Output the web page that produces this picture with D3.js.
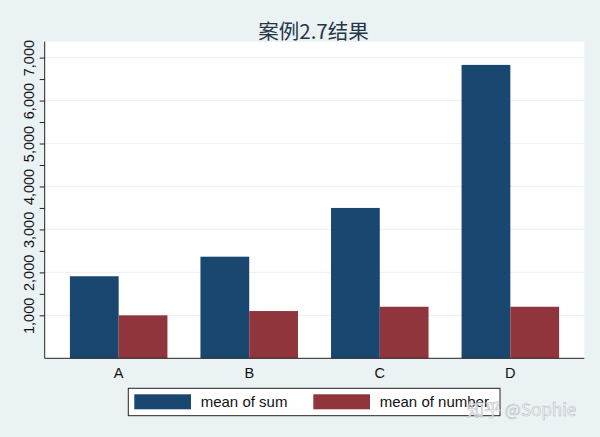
<!DOCTYPE html>
<html>
<head>
<meta charset="utf-8">
<script src="https://cdn.jsdelivr.net/npm/d3@7"></script>
<style>
  body { margin: 0; background: #eaf2f3; }
  text { font-family: "Liberation Sans", Arial, sans-serif; }
</style>
</head>
<body>
<script>
var categories = ["A", "B", "C", "D"];
var seriesNames = ["mean of sum", "mean of number"];
var meanSum = [1910, 2365, 3500, 6830];
var meanNumber = [1000, 1100, 1200, 1200];
var yTicks = [1000, 1500, 2000, 2500, 3000, 3500, 4000, 4500, 5000, 5500, 6000, 6500, 7000];
var yLabels = [1000, 2000, 3000, 4000, 5000, 6000, 7000];

var width = 600, height = 437;
var plot = { left: 44.7, right: 584.3, top: 41.7, bottom: 358.3 };
var colors = ["#1a476f", "#90353b"];

var svg = d3.select("body").append("svg")
    .attr("width", width)
    .attr("height", height);

svg.append("rect")
    .attr("width", width).attr("height", height)
    .attr("fill", "#eaf2f3");

svg.append("rect")
    .attr("x", plot.left).attr("y", plot.top)
    .attr("width", plot.right - plot.left)
    .attr("height", plot.bottom - plot.top)
    .attr("fill", "#ffffff");

var y = d3.scaleLinear()
    .domain([0, 7370])
    .range([plot.bottom, plot.top]);

var x = d3.scaleBand()
    .domain(categories)
    .range([plot.left, plot.right])
    .paddingInner(0.253)
    .paddingOuter(0.193);

var x1 = d3.scaleBand()
    .domain(seriesNames)
    .range([0, x.bandwidth()]);

// grid
svg.append("g")
    .selectAll("line")
    .data(yLabels)
    .enter()
    .append("line")
    .attr("x1", plot.left).attr("x2", plot.right)
    .attr("y1", function(d) { return y(d); })
    .attr("y2", function(d) { return y(d); })
    .attr("stroke", "#eaf2f3")
    .attr("stroke-width", 1.2);

var rows = categories.map(function(c, i) {
    return { cat: c, values: [meanSum[i], meanNumber[i]] };
});

var groups = svg.selectAll(".grp")
    .data(rows)
    .enter()
    .append("g")
    .attr("class", "grp")
    .attr("transform", function(d) { return "translate(" + x(d.cat) + ",0)"; });

groups.selectAll("rect")
    .data(function(d) { return d.values.map(function(v, j) { return { s: seriesNames[j], v: v, j: j }; }); })
    .enter()
    .append("rect")
    .attr("x", function(d) { return x1(d.s); })
    .attr("width", x1.bandwidth())
    .attr("y", function(d) { return y(d.v); })
    .attr("height", function(d) { return plot.bottom - y(d.v); })
    .attr("fill", function(d) { return colors[d.j]; });

// y axis
var yAxis = svg.append("g")
    .attr("transform", "translate(" + plot.left + ",0)")
    .call(d3.axisLeft(y)
        .tickValues(yTicks)
        .tickSize(5)
        .tickFormat(function(d) { return yLabels.indexOf(d) >= 0 ? d3.format(",")(d) : ""; }));
yAxis.select(".domain").attr("d", "M0," + plot.top + "V" + plot.bottom).attr("stroke", "#222");
yAxis.selectAll(".tick line").attr("stroke", "#222");
yAxis.selectAll(".tick text")
    .attr("transform", "rotate(-90)")
    .attr("x", 0)
    .attr("y", -11)
    .attr("dy", 0)
    .style("text-anchor", "middle")
    .style("font-size", "14.5px")
    .attr("fill", "#111");

// x axis
var xAxis = svg.append("g")
    .attr("transform", "translate(0," + plot.bottom + ")")
    .call(d3.axisBottom(x).tickSize(0).tickPadding(9));
xAxis.select(".domain").attr("d", "M" + plot.left + ",0H" + plot.right).attr("stroke", "#222");
xAxis.selectAll(".tick text")
    .style("font-size", "14.5px")
    .attr("fill", "#111");

// title
svg.append("text")
    .attr("x", 313.5).attr("y", 38.5)
    .attr("text-anchor", "middle")
    .style("font-family", "'Noto Sans CJK SC', 'Liberation Sans', sans-serif")
    .style("font-size", "20.5px")
    .attr("fill", "#263648")
    .text("案例2.7结果");

// legend
var legend = svg.append("g");
legend.append("rect")
    .attr("x", 128.3).attr("y", 388.3)
    .attr("width", 371.7).attr("height", 27.4)
    .attr("fill", "#ffffff")
    .attr("stroke", "#222")
    .attr("stroke-width", 1);

var legendX = [134.3, 313.3];
seriesNames.forEach(function(s, j) {
    legend.append("rect")
        .attr("x", legendX[j]).attr("y", 394.3)
        .attr("width", 56.7).attr("height", 15)
        .attr("fill", colors[j]);
    legend.append("text")
        .attr("x", legendX[j] + 66.4).attr("y", 406.7)
        .style("font-size", "15px")
        .attr("fill", "#111")
        .text(s);
});

// watermark (sits over the legend in the original too)
svg.append("text")
    .attr("x", 467).attr("y", 416)
    .style("font-family", "'Noto Sans CJK SC', 'Liberation Sans', sans-serif")
    .style("font-size", "17px")
    .attr("fill", "#ffffff")
    .attr("fill-opacity", 0.75)
    .attr("stroke", "#b8bec4")
    .attr("stroke-width", 0.6)
    .text("知乎 @Sophie");
</script>
</body>
</html>
